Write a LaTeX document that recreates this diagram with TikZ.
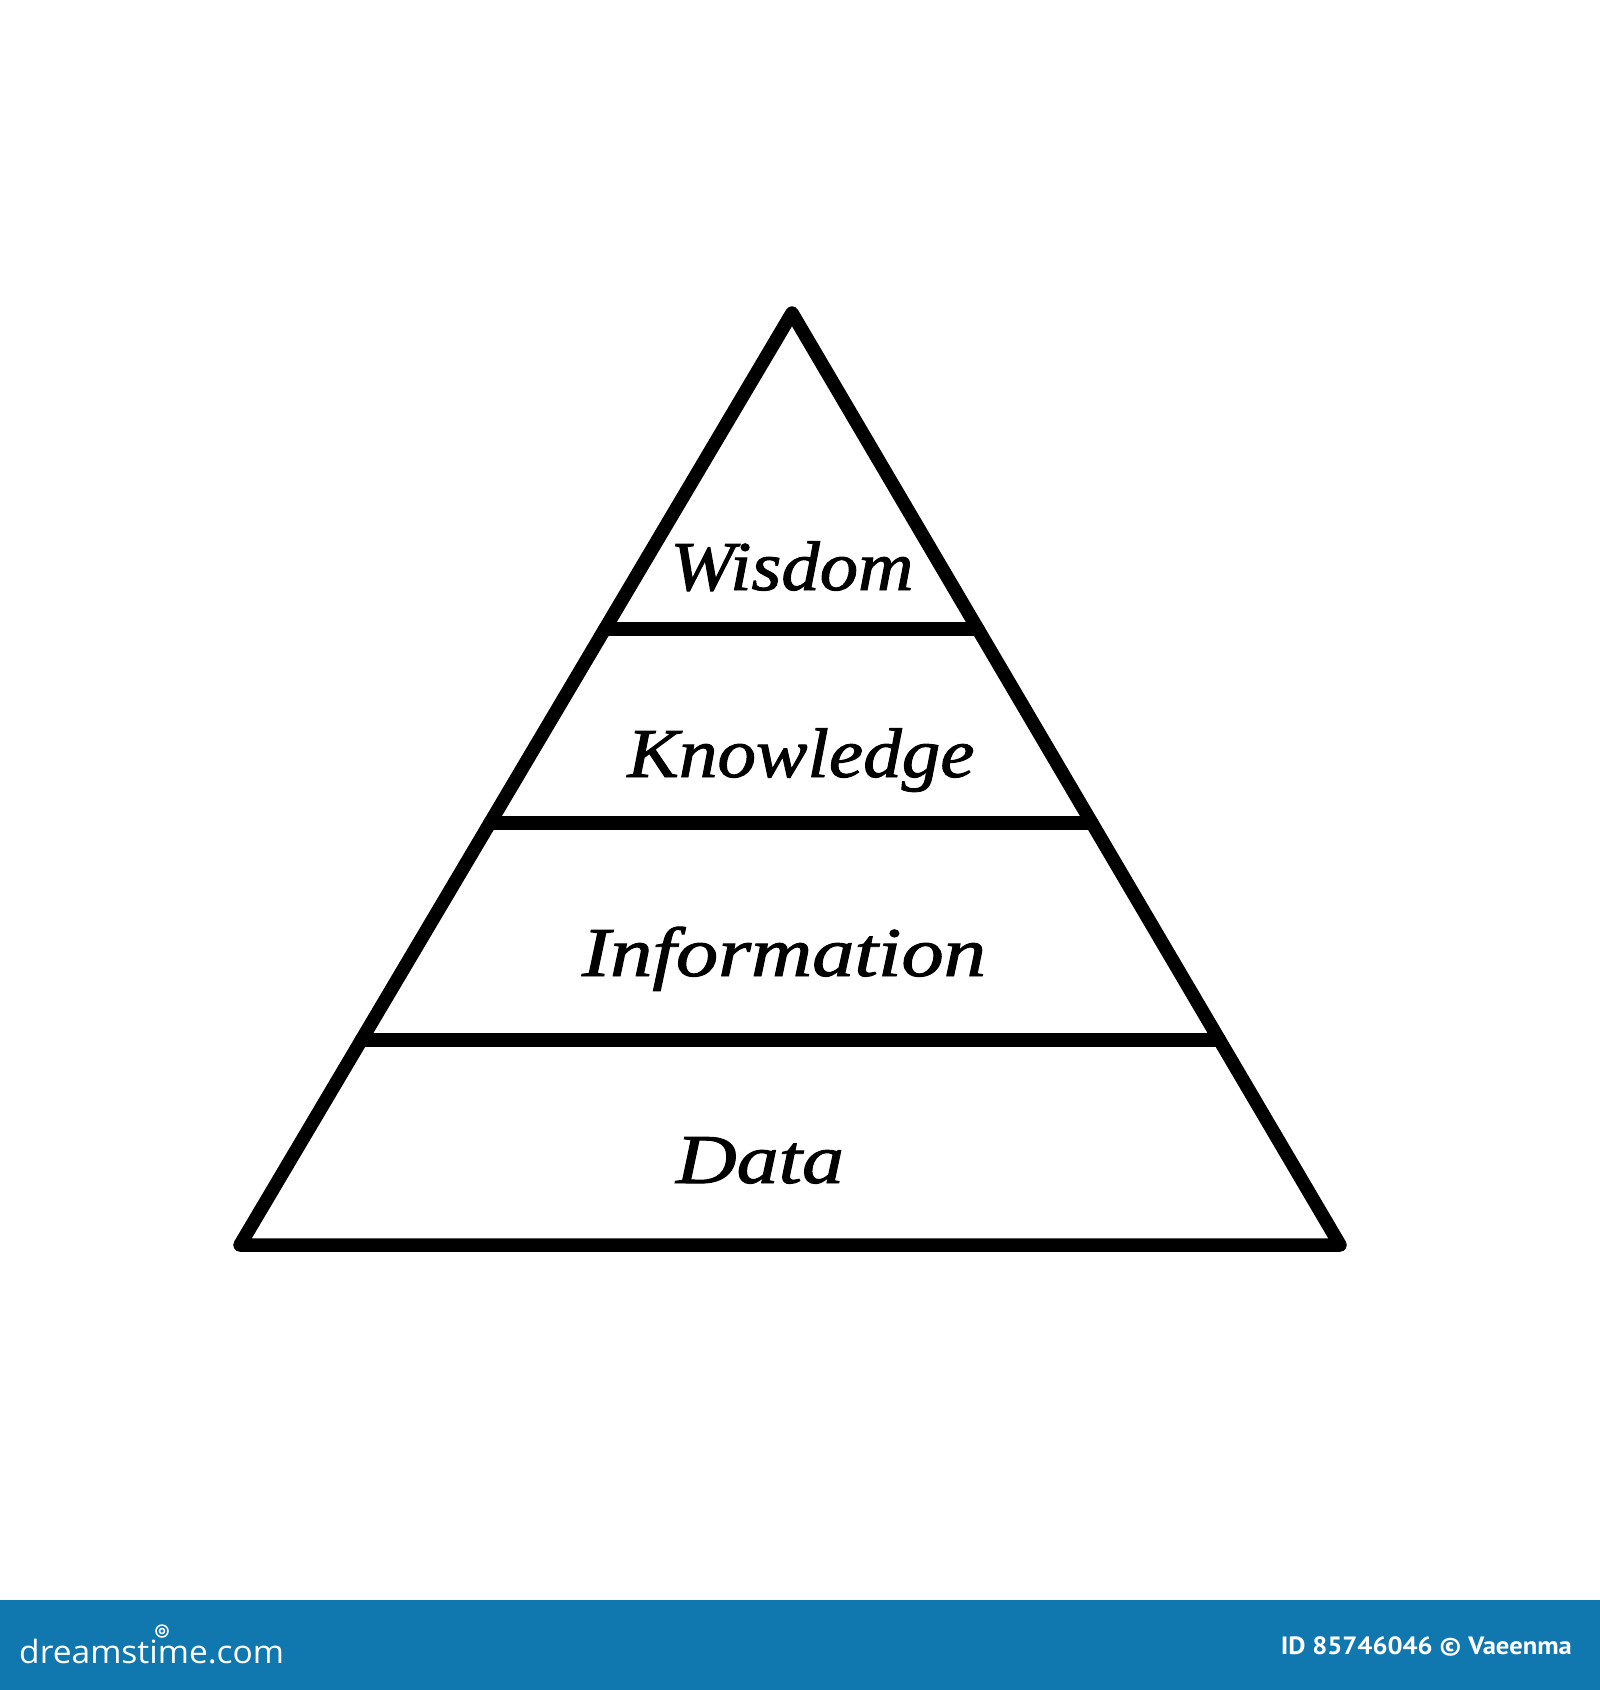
\documentclass[tikz,border=0pt]{standalone}
\usepackage{fontspec}
\usepackage{graphicx}
\setmainfont{Liberation Serif}
\newfontfamily\handfont{Liberation Serif}[FakeBold=1.3]
\newfontfamily\barfont{PT Sans}
\newfontfamily\logofont{Open Sans}
\usetikzlibrary{calc}
\definecolor{barblue}{RGB}{17,119,175}
\begin{document}
\begin{tikzpicture}[x=1pt,y=-1pt,
  outline/.style={line width=13.5pt, line cap=round, line join=round},
  tiertext/.style={anchor=base, inner sep=0pt, font=\handfont\fontsize{70}{70}\selectfont\itshape}]
\useasboundingbox (0,0) rectangle (1600,1690);
\fill[white] (0,0) rectangle (1600,1690);
% pyramid
\coordinate (A) at (792,313);
\coordinate (L) at (240,1245);
\coordinate (R) at (1340,1245);
\draw[outline] (A) -- (L) -- (R) -- cycle;
\coordinate (w1) at ($(A)!0.339!(L)$);
\coordinate (e1) at ($(A)!0.339!(R)$);
\coordinate (w2) at ($(A)!0.547!(L)$);
\coordinate (e2) at ($(A)!0.547!(R)$);
\coordinate (w3) at ($(A)!0.780!(L)$);
\coordinate (e3) at ($(A)!0.780!(R)$);
\draw[outline] (w1) -- (e1);
\draw[outline] (w2) -- (e2);
\draw[outline] (w3) -- (e3);
% tier labels
\node[tiertext] (wisdom) at (792,590) {\resizebox{243pt}{\height}{Wisdom}};
\node[tiertext] (knowledge) at (801,777) {\resizebox{347pt}{\height}{Knowledge}};
\node[tiertext] (information) at (784,976) {\resizebox{404pt}{\height}{Information}};
\node[tiertext] (data) at (760,1183) {\resizebox{168pt}{\height}{Data}};
% bottom bar
\fill[barblue] (0,1600) rectangle (1600,1690);
\node[anchor=base west, inner sep=0pt, text=white, font=\logofont\fontsize{32}{32}\selectfont] (logo) at (19,1663) {\resizebox{265pt}{\height}{dreamstime.com}};
\draw[white, line width=1.5pt] (162,1631) circle (6) (162,1631) circle (2.5);
\node[anchor=base east, inner sep=0pt, text=white, font=\barfont\bfseries\fontsize{25}{25}\selectfont] (credit) at (1572,1654) {\resizebox{291pt}{\height}{ID 85746046 © Vaeenma}};
\end{tikzpicture}
\end{document}
